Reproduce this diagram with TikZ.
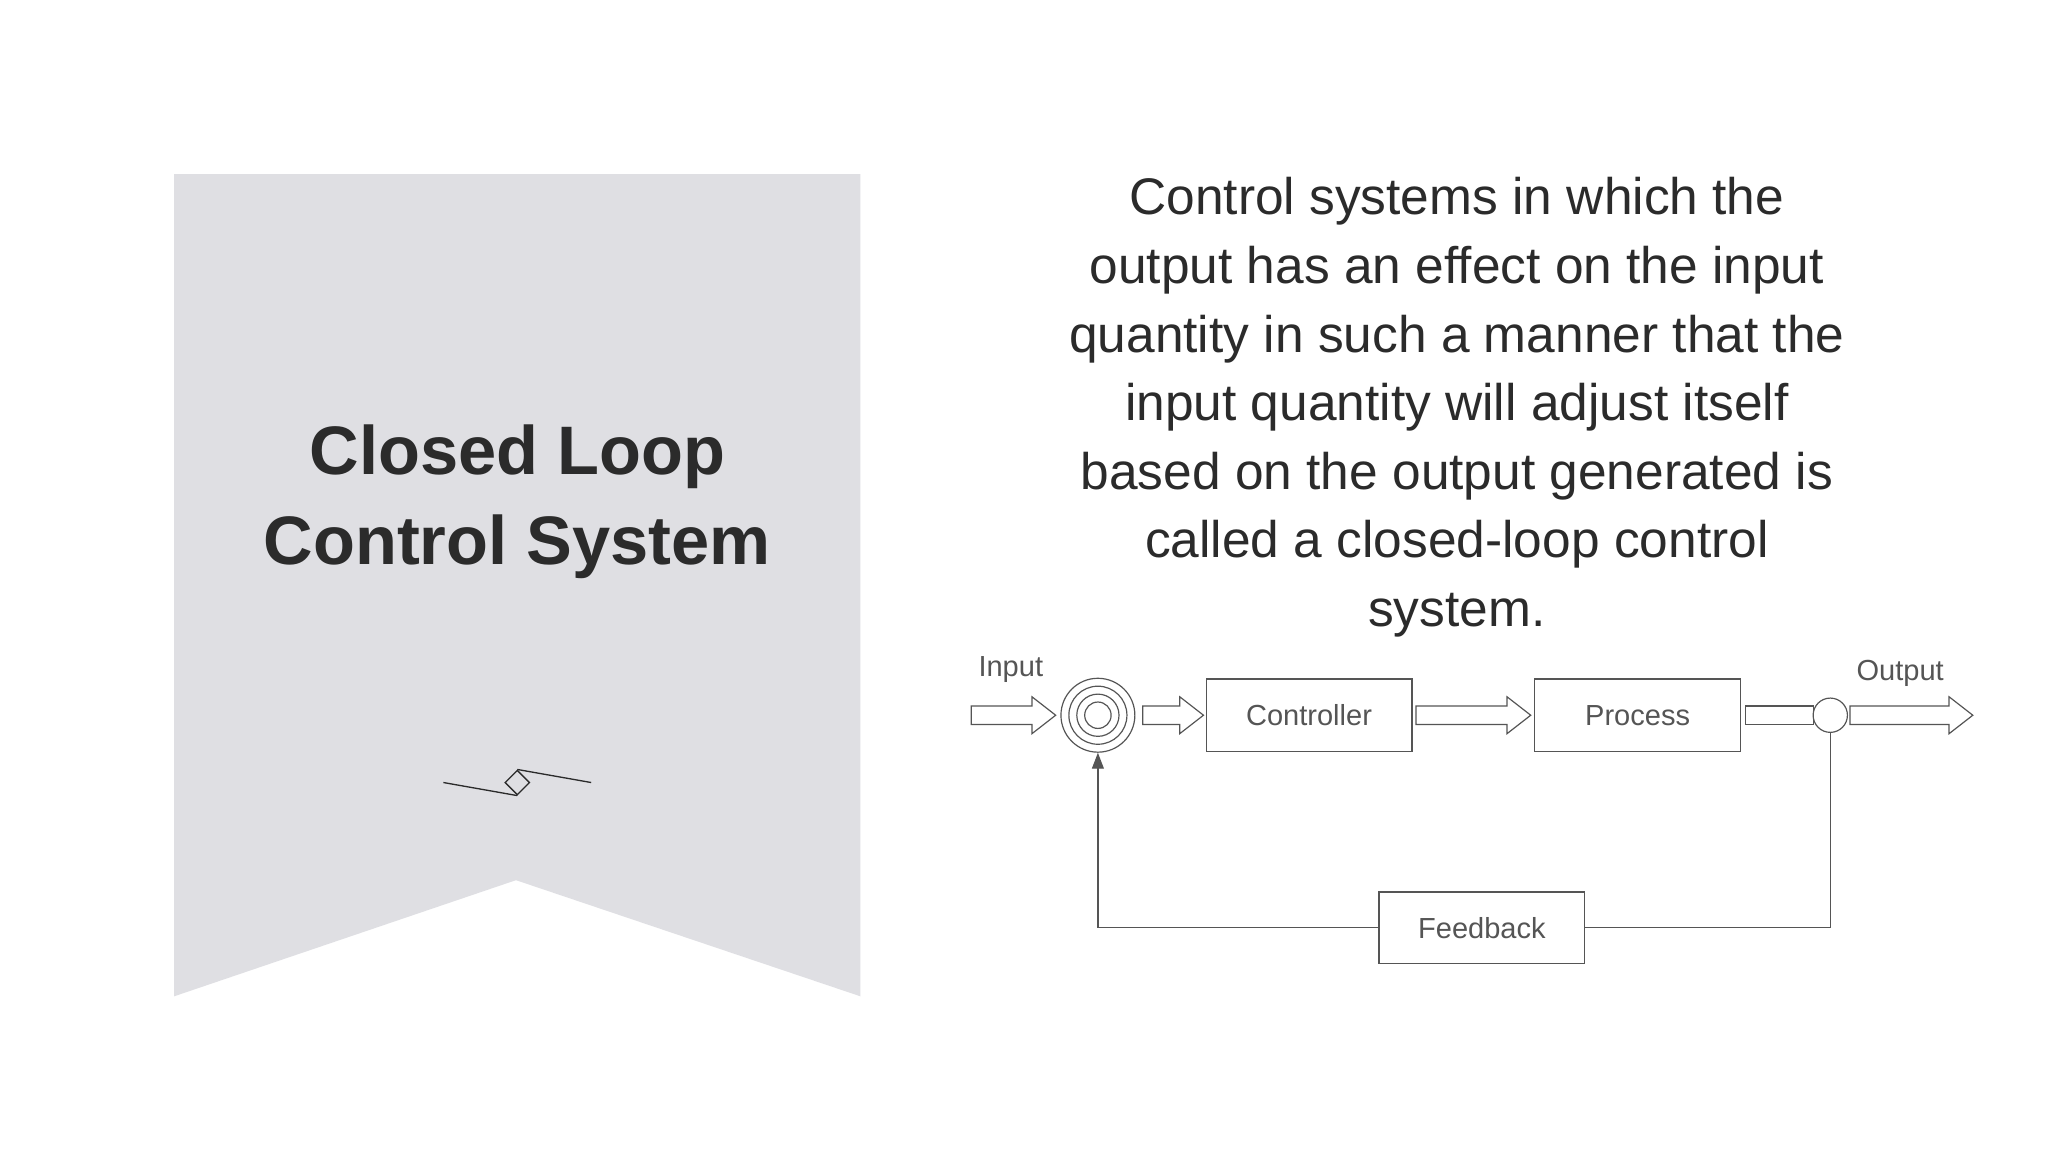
\documentclass[tikz,border=0pt]{standalone}
\usepackage{fontspec}
\setmainfont{Liberation Sans}
\usetikzlibrary{arrows.meta}
\definecolor{banner}{HTML}{DFDFE3}
\definecolor{ink}{HTML}{2B2B2B}
\definecolor{dg}{HTML}{555555}
\newcommand{\blockarr}[2]{\draw[dg,line width=0.9pt,fill=white] (#1,535) -- (#2-18,535) -- (#2-18,528) -- (#2,542) -- (#2-18,556) -- (#2-18,549) -- (#1,549) -- cycle;}
\begin{document}
\begin{tikzpicture}[x=1pt,y=-1pt,
  box/.style={draw=dg,line width=0.9pt,fill=white,minimum width=156pt,minimum height=55pt,inner sep=0pt,text=dg,font=\fontsize{22}{24}\selectfont},
  lab/.style={text=dg,font=\fontsize{22}{24}\selectfont},
  circ/.style={draw=dg,line width=0.9pt,circle,inner sep=0pt}]
\useasboundingbox (0,0) rectangle (1552,873);
\fill[white] (0,0) rectangle (1552,873);
\fill[banner] (132,132) -- (652,132) -- (652,755) -- (391,667) -- (132,755) -- cycle;
\node[text=ink,font=\fontsize{52}{68}\selectfont\bfseries,align=center] (title) at (392,380) {Closed Loop\\Control System};
\coordinate (dl) at (336,593); \coordinate (dr) at (448,593);
\node[draw=ink,line width=1pt,diamond-free/.style={},rotate=45,minimum size=13pt,inner sep=0pt,fill=banner] (dm) at (392,593) {};
\draw[ink,line width=1pt] (dl) -- (dm.south west) (dm.north east) -- (dr);
\node[text=ink,font=\fontsize{39}{52}\selectfont,align=center,anchor=north] (para) at (1104,131) {Control systems in which the\\output has an effect on the input\\quantity in such a manner that the\\input quantity will adjust itself\\based on the output generated is\\called a closed-loop control\\system.};
% diagram
\blockarr{736}{800}
\node[circ,minimum size=56pt] (sum) at (832,542) {};
\node[circ,minimum size=44pt] at (832,542) {};
\node[circ,minimum size=32pt] at (832,542) {};
\node[circ,minimum size=20pt] at (832,542) {};
\blockarr{866}{912}
\node[box] (ctrl) at (992,542) {Controller};
\blockarr{1073}{1160}
\node[box] (proc) at (1241,542) {Process};
\draw[dg,line width=0.9pt,fill=white] (1323,535) rectangle (1374,549);
\node[circ,minimum size=26pt] (tap) at (1387,542) {};
\blockarr{1402}{1495}
\node[lab] (in) at (766,507) {Input};
\node[lab] (out) at (1440,510) {Output};
\node[box,minimum height=54pt] (fb) at (1123,703) {Feedback};
\draw[dg,line width=0.9pt] (tap.south) |- (fb.east);
\draw[dg,line width=0.9pt,-{Triangle[length=12pt,width=9pt]}] (fb.west) -| (sum.south);
\end{tikzpicture}
\end{document}
